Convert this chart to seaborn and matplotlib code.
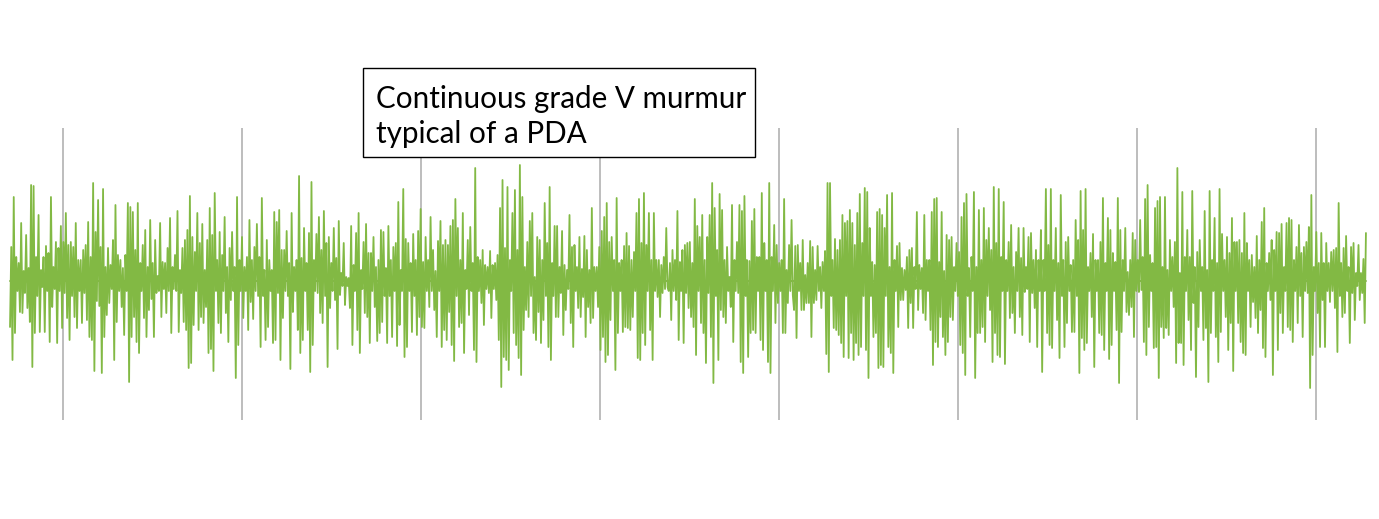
import numpy as np
import pandas as pd
import seaborn as sns
import matplotlib
matplotlib.use("Agg")
import matplotlib.pyplot as plt
from matplotlib.patches import Rectangle

# ---- data: phonocardiogram amplitude samples (arbitrary units) ----
seg01 = [-46, 34, -79, 84, -52, 24, -10, 18, -31, 58, -32, 10, -12, 46, -27, 13, -41, 96, -86, 95, -52, 24, -15, 66, -51, 11, -6, 24, -51, 35, -10, 28, -61, 84, -26, 14, -8, 39, -62, 33, -10, 55, -47, 39, -12, 68, -37, 36, -59, 39, -15, 34, -36, 58, -47, 21, -10, 21, -42, 31, -12, 36, -39, 59, -56, 24, -59, 98, -90, 49, -20, 81]
seg02 = [-25, 34, -92, 92, -56, 14, -34, 33, -22, 16, -8, 41, -79, 76, -41, 26, -10, 21, -26, 13, -54, 26, -10, 78, -101, 74, -56, 69, -36, 31, -61, 78, -72, 18, -10, 36, -37, 51, -56, 14, -29, 61, -18, 18, -56, 41, -12, 5, -10, 58, -36, 19, -8, 18, -32, 33, -10, 63, -52, 14, -8, 26, -10, 70, -51, 11, -12, 33, -41, 41, -49, 51, -87, 85, -82, 44, -44, 29, -10, 68, -49, 38, -36, 57, -42, 11, -26, 41, -72, 73]
seg03 = [-68, 46, -90, 88, -10, 21, -42, 49, -52, 26, -10, 64, -32, 14, -61, 33, -19, 49, -10, 14, -97, 84, -64, 21, -10, 44, -37, 14, -10, 24, -49, 61, -21, 21, -38, 34, -10, 57, -15, 24, -66, 83, -15, 11, -59, 41, -46, 21, -10, 11, -62, 69, -59, 59, -12, 71, -79, 31, -37, 31, -10, 50, -15, 18, -88, 68, -31, 14, -10, 21, -49, 105, -72, 23, -59, 53, -10, 18, -49, 48, -91, 99, -64, 21, -10, 47, -12, 64, -32, 31, -42, 70, -15, 38]
seg04 = [-86, 44, -27, 18, -10, 53, -19, 23, -68, 60, -14, 8, -5, 38, -24, 4, -5, 3, -27, 55, -64, 16, -10, 48, -49, 68, -72, 11, -8, 39, -32, 57, -36, 28, -62, 28, -10, 44, -26, 14, -60, 21, -52, 51, -41, 49, -15, 13, -62, 55, -15, 21, -56, 34, -10, 38, -65, 79, -44, 11, -10, 92, -76, 42, -66, 38, -10, 18, -51, 47, -15, 21, -54, 50, -36, 72, -46, 19, -47, 44, -10, 21, -26, 64, -10, 31, -29, 10, -56, 40, -10, 60, -66, 36, -49, 41]
seg05 = [-59, 36, -31, 55, -64, 61, -80, 82, -15, 53, -46, 21, -42, 68, -72, 11, -8, 41, -34, 54, -10, 18, -69, 113, -81, 24, -10, 21, -22, 31, -44, 16, -8, 14, -12, 30, -37, 16, -8, 18, -19, 26, -59, 73, -106, 101, -76, 33, -79, 94, -89, 21, -10, 68, -52, 91, -64, 31, -77, 116, -94, 84, -49, 14, -29, 39, -36, 60, -15, 68, -52, 4, -59, 44, -31, 41, -62, 21, -39, 78, -15, 38, -66, 94, -79, 18, -15, 55]
seg06 = [-36, 55, -36, 14, -12, 50, -54, 16, -29, 11, -8, 66, -42, 34, -66, 36, -10, 14, -27, 44, -36, 12, -16, 45, -56, 31, -26, 11, -42, 73, -37, 14, -10, 14, -26, 34, -69, 50, -56, 64, -81, 78, -74, 39, -39, 44, -10, 21, -89, 83, -52, 18, -10, 21, -51, 35, -46, 48, -47, 35, -49, 21, -36, 29, -10, 68, -77, 82, -79, 38, -52, 88, -64, 36, -10, 68, -49, 21, -79, 68, -10, 21, -16, 21, -36, 16, -12, 24, -8, 53, -6]
seg07 = [-10, 18, -39, 31, -10, 21, -19, 70, -59, 19, -10, 31, -62, 36, -12, 38, -27, 39, -36, 18, -46, 82, -74, 55, -10, 44, -42, 66, -52, 21, -82, 44, -12, 66, -56, 98, -102, 73, -15, 31, -79, 87, -29, 71, -36, 21, -42, 34, -10, 4, -26, 76, -61, 21, -10, 39, -12, 76, -81, 70, -92, 85, -15, 21, -76, 20, -52, 60, -49, 72, -52, 24, -10, 24, -59, 88, -69, 38, -10, 21, -81, 98, -92, 24, -10, 56, -42, 36, -22, 18, -10, 21, -52, 82, -52, 11, -22, 36, -10, 61, -14]
seg08 = [-29, 35, -57, 36, -10, 18, -29, 41, -29, 6, -22, 18, -22, 40, -56, 34, -22, 11, -19, 35, -10, 14, -27, 19, -10, 30, -73, 98, -91, 98, -15, 21, -47, 42, -49, 31, -54, 41, -62, 66, -76, 58, -15, 60, -77, 71, -52, 58, -79, 36, -62, 68, -74, 87, -66, 38, -15, 93, -69, 89, -97, 53, -15, 19, -56, 16, -52, 69, -87, 72, -84, 66, -86, 53, -15, 86, -66, 14, -72, 88, -92, 21, -10, 35, -46, 38, -19, 13, -19, 11, -9, 24]
seg09 = [-47, 31, -22, 33, -47, 14, -8, 69, -29, 16, -8, 13, -32, 66, -39, 21, -10, 21, -49, 69, -84, 82, -61, 83, -66, 19, -36, 69, -56, 10, -74, 46, -61, 41, -36, 44, -39, 14, -10, 38, -15, 29, -64, 64, -72, 78, -94, 87, -15, 13, -56, 24, -10, 89, -97, 14, -52, 71, -52, 21, -46, 73, -61, 41, -15, 53, -29, 31, -81, 94, -52, 38, -74, 92, -76, 24, -10, 79, -83, 21, -10, 39, -37, 56, -32, 14, -52, 29, -10, 53, -36, 23, -54, 53]
seg10 = [-11, 14, -8, 44, -61, 48, -12, 21, -27, 31, -66, 21, -10, 51, -91, 21, -10, 92, -52, 36, -64, 92, -67, 21, -10, 53, -39, 18, -77, 86, -15, 21, -66, 39, -42, 44, -10, 16, -51, 21, -51, 61, -15, 41, -92, 90, -57, 51, -69, 92, -62, 14, -10, 28, -36, 47, -86, 21, -10, 21, -52, 39, -54, 83, -69, 18, -10, 63, -78, 51, -64, 28, -10, 19, -49, 83, -102, 51, -51, 21, -10, 53, -31, 9, -34, 21, -26, 48, -56, 41, -10, 21, -11, 61, -9, 24, -61]
seg11 = [82, -74, 96, -46, 26, -10, 18, -67, 73, -66, 80, -97, 84, -46, 14, -57, 84, -47, 11, -54, 41, -10, 24, -26, 39, -82, 113, -62, 8, -62, 89, -84, 24, -10, 51, -39, 24, -69, 90, -22, 14, -96, 29, -46, 41, -10, 14, -59, 70, -47, 11, -101, 90, -52, 21, -10, 63, -56, 18, -81, 92, -51, 47, -10, 21, -36, 44, -69, 28, -42, 63, -90, 39, -10, 39, -42, 41, -61, 28, -72, 68, -74, 38, -10, 21, -46, 26, -21, 14, -37, 45, -52, 21, -29, 59]
seg12 = [-67, 73, -76, 18, -10, 28, -19, 41, -94, 31, -10, 49, -69, 48, -32, 57, -52, 14, -10, 58, -46, 63, -49, 61, -61, 21, -10, 34, -42, 56, -15, 28, -56, 34, -10, 39, -12, 54, -107, 86, -74, 14, -10, 49, -32, 18, -66, 48, -19, 18, -66, 38, -10, 18, -21, 29, -10, 31, -27, 33, -71, 78, -15, 18, -36, 33, -32, 45, -10, 14, -62, 34, -12, 38, -39, 8, -5, 36, -19, 8, -12, 22, -42, 48]

grid_times = [1, 2, 3, 4, 5, 6, 7, 8]
t_start, t_end = 0.704, 8.279
annotation = "Continuous grade V murmur\ntypical of a PDA"

amplitude = np.array(seg01 + seg02 + seg03 + seg04 + seg05 + seg06 +
                     seg07 + seg08 + seg09 + seg10 + seg11 + seg12, dtype=float)
time = np.linspace(t_start, t_end, len(amplitude))
df = pd.DataFrame({"time": time, "amplitude": amplitude})

# ---- style ----
sns.set_theme(style="white")
plt.rcParams["font.family"] = ["Lato", "DejaVu Sans"]
green = "#82B944"

W, H = 1379, 519
fig = plt.figure(figsize=(W / 100, H / 100), dpi=100)
ax = fig.add_axes([0, 0, 1, 1])
ax.set_xlim(1 - 63 / 179, 1 + (W - 63) / 179)
ax.set_ylim(-(H - 281), 281)
ax.axis("off")

ax.vlines(grid_times, -139, 153, color="#BDBDBD", lw=1.4, zorder=1)
ax.axhline(0, xmin=10 / W, xmax=1366 / W, color="#78A83C", lw=1.3, zorder=2)
sns.lineplot(data=df, x="time", y="amplitude", color=green, lw=1.3,
             sort=False, estimator=None, ax=ax, zorder=3)

box = Rectangle((363 / W, 1 - 157 / H), 392 / W, 89 / H, transform=fig.transFigure,
                facecolor="white", edgecolor="black", lw=1.0, zorder=5)
fig.patches.append(box)
fig.text(376 / W, 1 - 85 / H, annotation, ha="left", va="top", fontsize=21.3,
         linespacing=1.3, color="black", zorder=6)

fig.savefig("out.png", dpi=100)
